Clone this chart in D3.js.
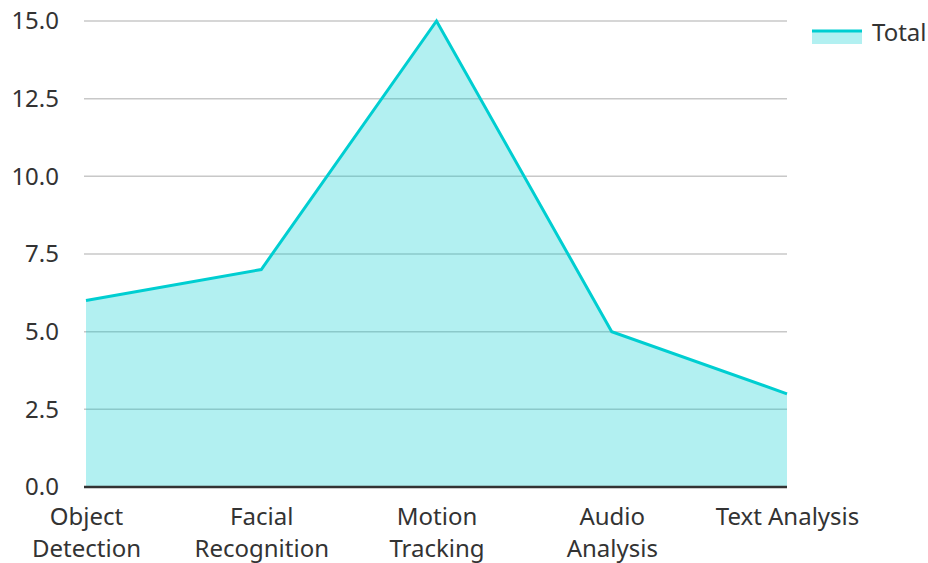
<!DOCTYPE html>
<html><head><meta charset="utf-8">
<script src="https://cdn.jsdelivr.net/npm/d3@7"></script>
<style>body{margin:0;background:#fff;}svg{display:block;font-family:"Noto Sans",sans-serif;}</style>
</head><body><svg id="c" width="928" height="563"></svg>
<script>
const categories = [["Object","Detection"],["Facial","Recognition"],["Motion","Tracking"],["Audio","Analysis"],["Text Analysis"]];
const values = [6, 7, 15, 5, 3];
const yTicks = [0, 2.5, 5, 7.5, 10, 12.5, 15];
const seriesName = "Total";

const svg = d3.select("#c");
const m = {l:86, r:141, t:21, b:76};
const W = 928, H = 563;
const x = d3.scalePoint().domain(d3.range(categories.length)).range([m.l, W - m.r]).padding(0);
const y = d3.scaleLinear().domain([0, 15]).range([H - m.b, m.t]);
const color = "#00CED1";
const FS = 24;

// grid
svg.append("g").selectAll("line").data(yTicks.filter(d=>d>0)).join("line")
  .attr("x1", m.l - 2).attr("x2", W - m.r).attr("y1", d=>y(d)).attr("y2", d=>y(d))
  .attr("stroke", "#c8c8c8").attr("stroke-width", 1.5);

const data = values.map((v,i)=>({i, v}));
svg.append("path").datum(data)
  .attr("d", d3.area().x(d=>x(d.i)).y0(y(0)).y1(d=>y(d.v)))
  .attr("fill", color).attr("fill-opacity", 0.3);
svg.append("path").datum(data)
  .attr("d", d3.line().x(d=>x(d.i)).y(d=>y(d.v)))
  .attr("fill", "none").attr("stroke", color).attr("stroke-width", 3);

// y axis labels
const yAxis = d3.axisLeft(y).tickValues(yTicks).tickFormat(d3.format(".1f")).tickSize(0).tickPadding(27);
const gy = svg.append("g").attr("transform", `translate(${m.l},0)`).call(yAxis);
gy.select(".domain").remove();
gy.selectAll("text").attr("font-size", FS).attr("fill", "#333").attr("font-family", "Noto Sans");

// x axis
const xAxis = d3.axisBottom(x).tickSize(0).tickFormat("");
const gx = svg.append("g").attr("transform", `translate(0,${y(0)})`).call(xAxis);
gx.select(".domain").attr("stroke", "#333").attr("stroke-width", 2.5).attr("d", `M${m.l-2},0H${W-m.r}`);
gx.selectAll(".tick").each(function(d){
  const t = d3.select(this).append("text").attr("fill", "#333").attr("font-size", FS)
    .attr("text-anchor", "middle").attr("font-family", "Noto Sans");
  categories[d].forEach((s,k)=>t.append("tspan").attr("x", 0).attr("y", 38 + k*32).text(s));
});

// legend
const lg = svg.append("g").attr("transform", "translate(812,31)");
lg.append("rect").attr("x", 0).attr("y", 0).attr("width", 50).attr("height", 13).attr("fill", color).attr("fill-opacity", 0.3);
lg.append("line").attr("x1", 0).attr("x2", 50).attr("y1", 0).attr("y2", 0).attr("stroke", color).attr("stroke-width", 3);
lg.append("text").attr("x", 60).attr("y", 10).attr("font-size", FS).attr("fill", "#333").text(seriesName);
</script></body></html>
